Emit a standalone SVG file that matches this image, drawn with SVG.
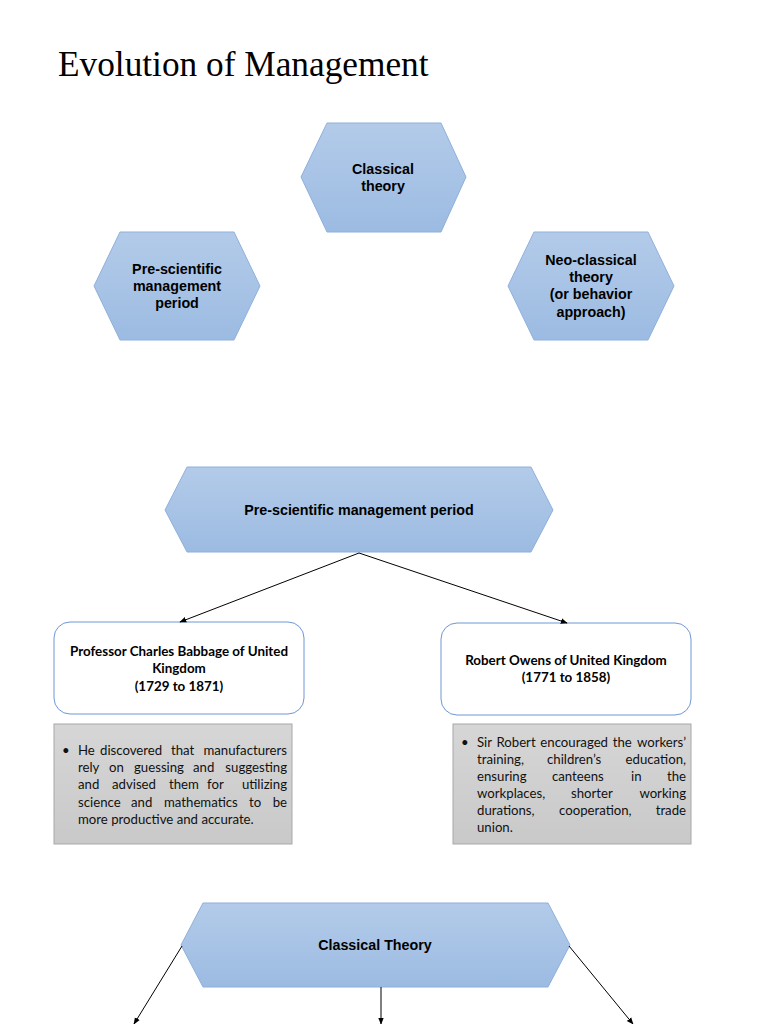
<svg xmlns="http://www.w3.org/2000/svg" width="768" height="1024" viewBox="0 0 768 1024">
<defs>
<linearGradient id="hexfill" x1="0" y1="0" x2="0" y2="1">
<stop offset="0" stop-color="#b3cbe9"/>
<stop offset="1" stop-color="#9cbbe2"/>
</linearGradient>
<linearGradient id="greyfill" x1="0" y1="0" x2="0" y2="1">
<stop offset="0" stop-color="#d6d6d6"/>
<stop offset="1" stop-color="#c9c9c9"/>
</linearGradient>
<marker id="arr" viewBox="0 0 10 10" refX="9" refY="5" markerWidth="7" markerHeight="7" orient="auto" markerUnits="userSpaceOnUse">
<path d="M0,1 L10,5 L0,9 z" fill="#000"/>
</marker>
<style>
.hex{fill:url(#hexfill);stroke:#8eb0dc;stroke-width:1}
.ht{font-family:"Liberation Sans",Arial,sans-serif;font-weight:bold;font-size:14.3px;fill:#000;text-anchor:middle}
.box{fill:#fff;stroke:#6f97d4;stroke-width:1}
.bt{font-family:Lato,"Liberation Sans",sans-serif;font-weight:bold;font-size:13.4px;fill:#000;text-anchor:middle}
.grey{fill:url(#greyfill);stroke:#a8a8a8;stroke-width:1}
.gt{font-family:Lato,"Liberation Sans",sans-serif;font-size:13.2px;fill:#111}
.ge{font-family:Lato,"Liberation Sans",sans-serif;font-size:13.2px;fill:#111;text-anchor:end}
.conn{stroke:#000;stroke-width:1;fill:none;marker-end:url(#arr)}
</style>
</defs>
<rect width="768" height="1024" fill="#fff"/>
<text x="58" y="76" font-family="Liberation Serif,'Times New Roman',serif" font-size="35.3" fill="#000">Evolution of Management</text>

<g id="classical-theory-top">
<polygon class="hex" points="301,177 327,123 441,123 466,177 441,232 327,232"/>
<text class="ht" x="383" y="174">Classical</text>
<text class="ht" x="383" y="191">theory</text>
</g>
<g id="pre-scientific-top">
<polygon class="hex" points="94,286 120,232 234,232 260,286 234,340 120,340"/>
<text class="ht" x="177" y="274">Pre-scientific</text>
<text class="ht" x="177" y="291">management</text>
<text class="ht" x="177" y="308">period</text>
</g>
<g id="neo-classical-top">
<polygon class="hex" points="508,286 534,232 648,232 674,286 648,340 534,340"/>
<text class="ht" x="591" y="265">Neo-classical</text>
<text class="ht" x="591" y="282">theory</text>
<text class="ht" x="591" y="299">(or behavior</text>
<text class="ht" x="591" y="317">approach)</text>
</g>

<g id="pre-scientific-period">
<polygon class="hex" points="165,510 187,467 531,467 553,510 531,552 187,552"/>
<text class="ht" x="359" y="515">Pre-scientific management period</text>
</g>

<g id="babbage">
<rect class="box" x="54" y="622" width="250" height="92" rx="16"/>
<text class="bt" x="179" y="656">Professor Charles Babbage of United</text>
<text class="bt" x="179" y="673">Kingdom</text>
<text class="bt" x="179" y="691">(1729 to 1871)</text>
</g>
<g id="owens">
<rect class="box" x="441" y="623" width="250" height="92" rx="16"/>
<text class="bt" x="566" y="665">Robert Owens of United Kingdom</text>
<text class="bt" x="566" y="682">(1771 to 1858)</text>
</g>

<g id="babbage-note">
<rect class="grey" x="54" y="724" width="238" height="120"/>
<text class="gt" x="62" y="755">•</text>
<text class="gt" y="755"><tspan x="78">He</tspan><tspan x="100">discovered</tspan><tspan x="171">that</tspan></text>
<text class="ge" x="287" y="755">manufacturers</text>
<text class="gt" y="772"><tspan x="78">rely</tspan><tspan x="109">on</tspan><tspan x="134">guessing</tspan><tspan x="193">and</tspan></text>
<text class="ge" x="287" y="772">suggesting</text>
<text class="gt" y="789"><tspan x="78">and</tspan><tspan x="112">advised</tspan><tspan x="169">them</tspan><tspan x="207">for</tspan></text>
<text class="ge" x="287" y="789">utilizing</text>
<text class="gt" y="807"><tspan x="78">science</tspan><tspan x="131">and</tspan><tspan x="164">mathematics</tspan><tspan x="249">to</tspan></text>
<text class="ge" x="287" y="807">be</text>
<text class="gt" x="78" y="824">more productive and accurate.</text>
</g>
<g id="owens-note">
<rect class="grey" x="453" y="724" width="238" height="120"/>
<text class="gt" x="461" y="747">•</text>
<text class="gt" x="477" y="747" word-spacing="1.3">Sir Robert encouraged the</text>
<text class="ge" x="686" y="747">workers’</text>
<text class="gt" y="764"><tspan x="477">training,</tspan><tspan x="547">children’s</tspan></text>
<text class="ge" x="686" y="764">education,</text>
<text class="gt" y="781"><tspan x="477">ensuring</tspan><tspan x="552">canteens</tspan><tspan x="631">in</tspan></text>
<text class="ge" x="686" y="781">the</text>
<text class="gt" y="798"><tspan x="477">workplaces,</tspan><tspan x="571">shorter</tspan></text>
<text class="ge" x="686" y="798">working</text>
<text class="gt" y="815"><tspan x="477">durations,</tspan><tspan x="559">cooperation,</tspan></text>
<text class="ge" x="686" y="815">trade</text>
<text class="gt" x="477" y="832">union.</text>
</g>

<g id="classical-theory">
<polygon class="hex" points="181,945 203,903 548,903 570,945 548,987 203,987"/>
<text class="ht" x="375" y="950">Classical Theory</text>
</g>

<g id="connectors">
<line class="conn" x1="359" y1="553" x2="180" y2="622"/>
<line class="conn" x1="359" y1="553" x2="567" y2="623"/>
<line class="conn" x1="182" y1="946" x2="134" y2="1024"/>
<line class="conn" x1="381" y1="987" x2="381" y2="1024"/>
<line class="conn" x1="569" y1="946" x2="633" y2="1024"/>
</g>
</svg>
